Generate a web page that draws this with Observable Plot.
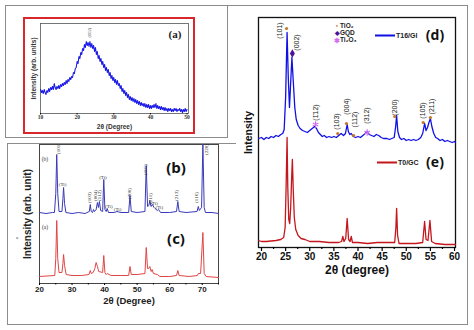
<!DOCTYPE html>
<html>
<head>
<meta charset="utf-8">
<script src="https://cdn.jsdelivr.net/npm/d3@7"></script>
<script src="https://cdn.jsdelivr.net/npm/@observablehq/plot@0.6"></script>
<style>
  html, body { margin: 0; padding: 0; background: #fff; }
  #fig { position: relative; width: 474px; height: 330px; overflow: hidden;
         font-family: "Liberation Sans", Arial, sans-serif; }
  #fig svg { position: absolute; overflow: visible; max-width: none; background: transparent; }
  .rule { position: absolute; background: #8c8c8c; }
  .note { position: absolute; white-space: nowrap; line-height: 1; transform: translate(-50%, -50%); }
  .key { position: absolute; white-space: nowrap; line-height: 1; transform: translateY(-50%);
         font-weight: bold; color: #222; }
</style>
</head>
<body>
<div id="fig"></div>
<script>
// ---------- (a) GO pattern, 10–50°, sampled every 0.25° ----------
const aStart = 10, aStep = 0.25;
const aIntensity = [
  24,21,23,20,24,21,19,23,21,25,22,26,24,27,24,30,26,24,27,25,
  28,25,29,27,30,28,31,29,33,30,34,32,36,34,37,36,41,40,45,46,
  52,50,57,55,61,59,65,63,69,66,72,68,71,67,72,66,70,65,68,62,
  66,59,62,55,58,52,55,49,52,46,49,43,46,41,44,38,41,35,38,33,
  36,31,34,29,33,28,30,25,28,22,25,20,23,18,21,16,19,14,17,13,
  16,12,15,11,14,10,13,9,12,8,11,8,10,7,10,6,9,6,9,5,
  8,5,8,6,9,6,10,5,8,5,7,4,7,4,6,3,6,3,5,2,
  5,3,5,2,4,2,5,3,5,2,4,3,5,2,4,1,4,2,5,2,4
];
const aTicks = [10, 20, 30, 40, 50];
const aHklText = ["(002)"];
const aHklAngle = [23.5];
const aHklLevel = [81];

// ---------- (b) T16 and (c) T0 patterns, 20–75° ----------
const bPattern = [
  [20,71],[22,70],[24,71],[24.6,71],[25.0,90],[25.3,129],[25.6,90],[26.0,72],[26.9,72],[27.2,85],
  [27.4,96],[27.7,80],[28.1,71],[30,70],[32,71],[34,70],[35.3,72],[35.6,79],[35.9,72],[36.3,71],
  [36.6,74],[36.9,72],[37.4,74],[37.8,81],[38.1,76],[38.4,82],[38.8,73],[39.4,72],[39.75,104],[40.1,74],
  [40.5,72],[40.8,75],[41.2,71],[43,71],[43.8,72],[45,71],[47.4,71],[47.8,88],[48.2,72],[50,71],
  [52.4,72],[52.8,118],[53.2,77],[53.6,78],[53.9,83],[54.3,77],[54.7,79],[55.2,76],[55.5,75],[56.2,73],
  [56.6,74],[57.2,71],[60,71],[62.1,72],[62.5,82],[62.9,72],[65,71],[68.4,72],[68.8,77],[69.1,73],
  [69.8,76],[70.2,140],[70.6,76],[71,71],[73,71],[75,70]
];
const cPattern = [
  [20,7],[24.7,8],[25.0,25],[25.3,63],[25.6,25],[26.0,11],[26.9,11],[27.2,20],[27.4,29],[27.7,18],
  [28.2,9],[30,8],[33,8],[35.2,9],[35.6,13],[35.9,10],[36.5,11],[37.0,15],[37.4,21],[37.8,17],
  [38.2,12],[39.4,11],[39.75,28],[40.1,11],[40.5,9],[40.8,10],[42,8],[45,8],[47.4,8],[47.8,17],
  [48.2,9],[50,9],[52.4,10],[52.8,36],[53.2,15],[53.5,15],[53.9,17],[54.3,12],[54.6,14],[55.0,10],
  [56.2,9],[57,7],[60,7],[62.1,8],[62.5,13],[62.9,8],[66,7],[68.5,8],[68.8,10],[69.5,10],
  [70.2,51],[70.6,10],[71.2,7],[75,6]
];
const bcTicks = [20, 30, 40, 50, 60, 70];
const bcMinorTicks = [25, 35, 45, 55, 65, 75];
const bHklText  = ["(101)","(Ti)","(103)","(004)","(112)","(Ti)","(Ti)","(Ti)","(200)","(105)","(211)","(Ti)","(Ti)","(213)","(116)","(220)"];
const bHklAngle = [25.7, 27.1, 35.4, 37.2, 38.4, 39.5, 41.3, 44.0, 47.7, 52.5, 54.0, 55.2, 56.8, 62.0, 68.1, 71.2];
const bHklLevel = [135, 99, 86, 88, 88, 106, 77, 74, 90, 114, 85, 80, 76, 88, 86, 134];

// ---------- (d) T16/Gl and (e) T0/GC patterns, 20–60° ----------
const dPattern = [
  [19.4,109],[20.0,110],[20.5,108],[21.0,110],[21.5,109],[22.0,111],[22.5,110],[23.0,112],[23.5,111],[24.0,113],
  [24.4,114],[24.7,118],[25.0,150],[25.3,215],[25.55,170],[25.8,140],[26.05,165],[26.3,190],[26.6,165],[26.9,140],
  [27.2,128],[27.6,122],[28.0,119],[28.5,117],[29.0,116],[29.5,115],[30.0,117],[30.5,119],[31.0,121],[31.4,119],
  [31.8,115],[32.2,113],[32.6,111],[33.0,112],[33.5,110],[34.0,111],[34.5,110],[35.0,111],[35.5,110],[36.0,112],
  [36.5,114],[37.0,112],[37.4,114],[37.75,123],[38.0,116],[38.3,113],[38.6,114],[39.0,111],[39.5,110],[40.0,111],
  [40.5,110],[41.0,112],[41.5,114],[41.9,116],[42.3,113],[42.8,112],[43.3,111],[43.8,113],[44.3,112],[44.8,110],
  [45.3,109],[46.0,109],[46.5,108],[47.0,109],[47.5,110],[47.8,121],[48.0,132],[48.25,116],[48.6,110],[49.0,108],
  [49.5,109],[50.0,107],[50.5,108],[51.0,107],[51.5,108],[52.0,107],[52.5,108],[53.0,110],[53.4,114],[53.8,124],
  [54.1,117],[54.4,120],[54.7,125],[55.0,129],[55.3,121],[55.7,114],[56.1,110],[56.5,109],[57.0,107],[57.5,108],
  [58.0,106],[58.5,107],[59.0,106],[59.5,105],[60.0,106],[60.2,105]
];
const ePattern = [
  [19.4,7],[20.0,6],[21,6],[22,6.5],[23,7],[24,8],[24.6,10],[24.9,20],[25.1,60],[25.3,110],
  [25.45,60],[25.65,28],[25.85,24],[26.05,40],[26.25,70],[26.4,88],[26.6,55],[26.8,30],[27.1,18],[27.6,12],
  [28.2,9],[29,8],[30,6],[32,6],[34,5],[36,5],[36.6,6],[36.85,11],[37.1,6],[37.45,9],
  [37.75,29],[38.05,8],[38.35,6],[38.6,11],[38.85,5],[40,5],[42,4],[44,5],[45,5],[47.6,5],
  [47.85,20],[48.0,39],[48.2,12],[48.5,4],[50,4],[52,4],[53.4,5],[53.8,26],[54.1,8],[54.5,7],
  [54.9,27],[55.25,6],[56,4],[58,3],[60.2,3]
];
const deTicks = [20, 25, 30, 35, 40, 45, 50, 55, 60];
const deMinorTicks = [22.5, 27.5, 32.5, 37.5, 42.5, 47.5, 52.5, 57.5];
const dHklText  = ["(101)","(002)","(1\u030412)","(103)","(004)","(112)","(312)","(200)","(105)","(211)"];
const dHklAngle = [23.8, 27.4, 31.2, 35.6, 37.6, 39.3, 41.9, 47.6, 53.4, 55.2];
const dHklLevel = [217, 205, 135, 126, 141, 128, 132, 140, 137, 141];
const tio2Angle = [25.2, 35.8, 37.6, 39.1, 47.6, 53.5, 55.0];
const tio2Level = [219, 114, 124, 112, 131, 125, 130];
const gqdAngle = [26.4];
const gqdLevel = [194];
const ti2o3Angle = [31.2, 41.9];
const ti2o3Level = [123, 115];

// ---------- colours ----------
const blueA = "#1a1ae6", blueB = "#3a3ab8", redC = "#e04545";
const blueD = "#1010e6", redE = "#c4161c";
const tio2Color = "#c27a2c", gqdColor = "#4a1296", ti2o3Color = "#d070f0";

// ---------- helpers ----------
const fig = document.getElementById("fig");
const toRows = (pairs) => pairs.map(([angle, intensity]) => ({angle, intensity}));
const zipRows = (text, angle, level) => text.map((t, i) => ({text: t, angle: angle[i], level: level[i]}));
const markerRows = (angle, level) => angle.map((a, i) => ({angle: a, level: level[i]}));
function mount(svg, left, top) {
  svg.style.left = left + "px";
  svg.style.top = top + "px";
  fig.appendChild(svg);
}
function rule(left, top, w, h) {
  const d = document.createElement("div");
  d.className = "rule";
  d.style.cssText = `left:${left}px;top:${top}px;width:${w}px;height:${h}px;`;
  fig.appendChild(d);
}
function note(text, x, y, css) {
  const d = document.createElement("div");
  d.className = "note";
  d.textContent = text;
  d.style.cssText += `left:${x}px;top:${y}px;${css}`;
  fig.appendChild(d);
}
function lineKey(x, y, color, text) {
  const d = document.createElement("div");
  d.className = "key";
  d.style.cssText += `left:${x}px;top:${y}px;font-size:7px;`;
  d.innerHTML = `<span style="display:inline-block;width:20px;height:1.6px;background:${color};vertical-align:middle;margin-right:1px"></span>${text}`;
  fig.appendChild(d);
}
function symbolKey(x, y, symbol, color, symSize, text) {
  const d = document.createElement("div");
  d.className = "key";
  d.style.cssText += `left:${x}px;top:${y}px;font-size:6.5px;`;
  d.innerHTML = `<span style="color:${color};font-size:${symSize}px;display:inline-block;width:6px;text-align:center;vertical-align:middle">${symbol}</span>${text}`;
  fig.appendChild(d);
}

// ---------- panel (a) ----------
const aRows = aIntensity.map((v, i) => ({angle: aStart + i * aStep, intensity: v}));
const plotA = Plot.plot({
  width: 169, height: 114,
  marginLeft: 16, marginRight: 5, marginTop: 5, marginBottom: 19,
  x: {domain: [10, 50.4]},
  y: {domain: [0, 90], axis: null},
  style: {fontFamily: "Liberation Serif, serif", background: "transparent", overflow: "visible"},
  marks: [
    Plot.frame({stroke: "#555", strokeWidth: 0.8}),
    Plot.axisX({ticks: aTicks, tickSize: 1.5, tickPadding: 0.5, fontSize: 5.5, fontWeight: "bold", fill: "#333", label: null}),
    Plot.line(aRows, {x: "angle", y: "intensity", stroke: blueA, strokeWidth: 1.1}),
    Plot.text(zipRows(aHklText, aHklAngle, aHklLevel), {x: "angle", y: "level", text: "text", rotate: -90, fontSize: 4.5, fill: "#444"}),
    Plot.text(["2\u03b8 (Degree)"], {frameAnchor: "bottom", dy: 13, lineAnchor: "middle", textAnchor: "middle", fontSize: 6.5, fontWeight: "bold", fontFamily: "Liberation Sans, sans-serif", fill: "#333"}),
    Plot.text(["Intensity (arb. units)"], {frameAnchor: "left", dx: -7, rotate: -90, lineAnchor: "middle", textAnchor: "middle", fontSize: 6.5, fontWeight: "bold", fontFamily: "Liberation Sans, sans-serif", fill: "#333"})
  ]
});
mount(plotA, 24, 18);

// ---------- panel (b)/(c) ----------
const plotBC = Plot.plot({
  width: 229, height: 180,
  marginLeft: 32, marginRight: 18, marginTop: 1, marginBottom: 40,
  x: {domain: [20, 75]},
  y: {domain: [0, 139], axis: null},
  style: {fontFamily: "Liberation Sans, sans-serif", background: "transparent", overflow: "visible"},
  marks: [
    Plot.frame({stroke: "#444", strokeWidth: 1}),
    Plot.axisX({ticks: bcTicks, tickSize: 2, tickPadding: 0.5, fontSize: 8, fontWeight: "bold", fill: "#222", label: null}),
    Plot.axisX({ticks: bcMinorTicks, tickSize: 1.5, tickFormat: () => "", label: null}),
    Plot.line(toRows(cPattern), {x: "angle", y: "intensity", stroke: redC, strokeWidth: 1}),
    Plot.line(toRows(bPattern), {x: "angle", y: "intensity", stroke: blueB, strokeWidth: 1}),
    Plot.text(zipRows(bHklText, bHklAngle, bHklLevel), {
      x: "angle", y: "level", text: "text",
      rotate: d => d.text === "(Ti)" ? 0 : -90,
      fontSize: 5, fontFamily: "Liberation Serif, serif", fill: "#333"
    }),
    Plot.text(["2\u03b8 (Degree)"], {frameAnchor: "bottom", dy: 17, lineAnchor: "middle", textAnchor: "middle", fontSize: 9.5, fontWeight: "bold", fill: "#222"}),
    Plot.text(["Intensity (arb. unit)"], {frameAnchor: "left", dx: -12, rotate: -90, lineAnchor: "middle", textAnchor: "middle", fontSize: 10, fontWeight: "bold", fill: "#222"})
  ]
});
mount(plotBC, 7, 143);

// ---------- panel (d)/(e) ----------
const plotDE = Plot.plot({
  width: 225, height: 275,
  marginLeft: 18, marginRight: 10, marginTop: 7, marginBottom: 38,
  x: {domain: [19.38, 60.2]},
  y: {domain: [0, 230], axis: null},
  style: {fontFamily: "Liberation Sans, sans-serif", background: "transparent", overflow: "visible"},
  marks: [
    Plot.frame({stroke: "#111", strokeWidth: 1.3}),
    Plot.axisX({ticks: deTicks, tickSize: 4, tickPadding: 1.5, fontSize: 10, fontWeight: "bold", fill: "#111", strokeWidth: 1.2, label: null}),
    Plot.axisX({ticks: deMinorTicks, tickSize: 2, tickFormat: () => "", strokeWidth: 1.2, label: null}),
    Plot.line(toRows(ePattern), {x: "angle", y: "intensity", stroke: redE, strokeWidth: 1.3}),
    Plot.line(toRows(dPattern), {x: "angle", y: "intensity", stroke: blueD, strokeWidth: 1.3}),
    Plot.text(zipRows(dHklText, dHklAngle, dHklLevel), {x: "angle", y: "level", text: "text", rotate: -90, fontSize: 7, fill: "#222"}),
    Plot.dot(markerRows(tio2Angle, tio2Level), {x: "angle", y: "level", r: 1.6, fill: tio2Color, symbol: "circle"}),
    Plot.dot(markerRows(gqdAngle, gqdLevel), {x: "angle", y: "level", r: 2.6, fill: gqdColor, symbol: "diamond"}),
    Plot.dot(markerRows(ti2o3Angle, ti2o3Level), {x: "angle", y: "level", r: 3, stroke: ti2o3Color, strokeWidth: 1.2, symbol: "asterisk"}),
    Plot.text(["2\u03b8 (degree)"], {frameAnchor: "bottom", dy: 23, lineAnchor: "middle", textAnchor: "middle", fontSize: 12, fontWeight: "bold", fill: "#111"}),
    Plot.text(["Intensity"], {frameAnchor: "left", dx: -10, rotate: -90, lineAnchor: "middle", textAnchor: "middle", fontSize: 10.5, fontWeight: "bold", fill: "#111"})
  ]
});
mount(plotDE, 240, 10);

// ---------- surrounding boxes ----------
rule(5, 5, 463, 1);      // top edge
rule(467, 5, 1, 320);    // right edge
rule(7, 324, 461, 1);    // bottom edge
rule(5, 5, 1, 133);      // (a) box
rule(5, 137, 223, 1);
rule(227, 5, 1, 133);
rule(7, 143, 229, 1);    // (b)/(c) box
rule(7, 143, 1, 181);
// red outline around (a)
const red = document.createElement("div");
red.style.cssText = "position:absolute;left:23px;top:17px;width:168px;height:113px;border:2px solid #d8282c;";
fig.appendChild(red);

// ---------- panel tags and keys ----------
note("(a)", 175, 34, "font-family:'Liberation Serif',serif;font-weight:bold;font-size:11px;color:#222;");
note("(b)", 176, 167, "font-family:'Open Sans',sans-serif;font-weight:bold;font-size:15px;color:#111;");
note("(c)", 176, 238, "font-family:'Open Sans',sans-serif;font-weight:bold;font-size:15px;color:#111;");
note("(b)", 45, 160, "font-family:'Liberation Serif',serif;font-size:5.5px;color:#333;");
note("(a)", 45, 228, "font-family:'Liberation Serif',serif;font-size:5.5px;color:#333;");
note("a", 17, 237, "font-family:'Liberation Serif',serif;font-size:5px;color:#444;");
note("(d)", 435, 35, "font-family:'Open Sans',sans-serif;font-weight:bold;font-size:14px;color:#111;");
note("(e)", 435, 162, "font-family:'Open Sans',sans-serif;font-weight:bold;font-size:14px;color:#111;");
lineKey(375, 35, blueD, "T16/Gl");
lineKey(377, 162, redE, "T0/GC");
symbolKey(334, 26, "\u25cf", tio2Color, 4, "TiO\u2082");
symbolKey(334, 33, "\u25c6", gqdColor, 6, "GQD");
symbolKey(334, 40, "\u2731", ti2o3Color, 7, "Ti\u2082O\u2083");
</script>
</body>
</html>
